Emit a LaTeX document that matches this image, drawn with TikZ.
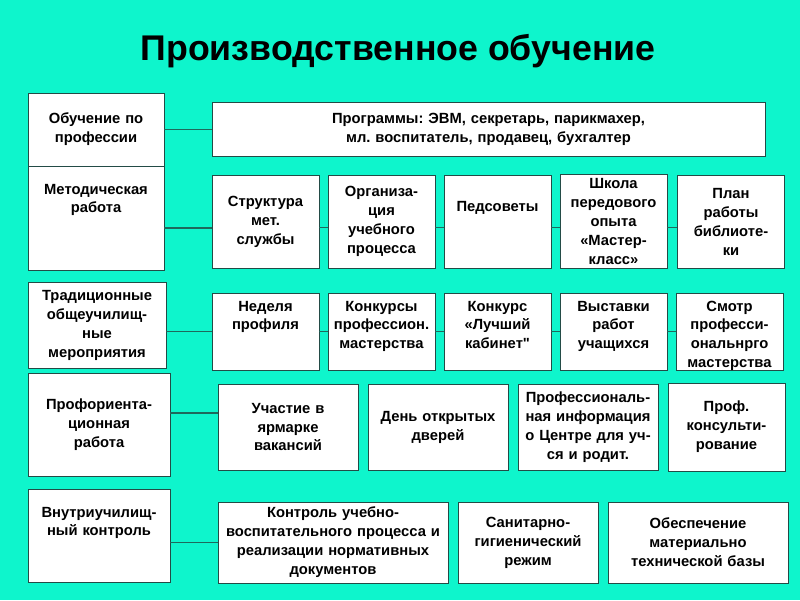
\documentclass[tikz,border=0pt]{standalone}
\usepackage{fontspec}
\setmainfont{Liberation Sans}
\usetikzlibrary{calc}
\frenchspacing
\definecolor{bgaqua}{RGB}{14,245,204}
\definecolor{boxline}{RGB}{35,75,70}
\definecolor{linkline}{RGB}{30,105,92}
\tikzstyle{normalBox} = [shape=rectangle, draw=boxline, text=black, thin,
	align=center, fill=white, inner xsep=.03cm, inner ysep=.1cm,
	font=\bfseries\fontsize{10.5}{13.5}\selectfont]
\tikzstyle{SideBox} = [normalBox, text width=3.34cm, minimum height=1.825cm]
\tikzstyle{RowBox} = [normalBox, text width=2.615cm, minimum height=2.325cm]
\tikzstyle{LowBox} = [normalBox, text width=2.615cm, text height=.35cm,
	text depth=1.375cm]
\tikzstyle{WideBox} = [normalBox, text width=3.44cm, minimum height=2.15cm]
\tikzstyle{normalLine} = [draw=linkline, line width=.8pt]

\begin{document}
\begin{tikzpicture}[node distance=2.9cm]
  \fill [bgaqua] (0,0) rectangle (20,-15);
  \useasboundingbox (0,0) rectangle (20,-15);
  \node (TITLE) at (9.95,-1.28) [font=\bfseries\fontsize{25.4}{30}\selectfont]
    {Производственное обучение};

  % left column
  \node (PROF) at (2.4,-3.2375) [SideBox] {Обучение по\\профессии};
  \node (METH) at (2.4,-5.45) [SideBox, text height=.6cm, text depth=1.8cm]
    {Методическая\\работа};
  \node (TRAD) at (2.425,-8.125) [SideBox, text width=3.39cm, minimum height=2.15cm]
    {Традиционные\\общеучилищ-\\ные\\мероприятия};
  \node (ORIE) at (2.475,-10.6125) [SideBox, text width=3.49cm, minimum height=2.575cm]
    {Профориента-\\ционная\\работа};
  \node (CTRL) at (2.475,-13.3875) [SideBox, text width=3.49cm, text height=.6cm,
    text depth=1.525cm] {Внутриучилищ-\\ный контроль};

  % rows
  \node (PROG) at (12.2125,-3.225) [normalBox, text width=13.765cm, minimum height=1.35cm]
    {Программы: ЭВМ, секретарь, парикмахер,\\мл. воспитатель, продавец, бухгалтер};

  \node (STRU) at (6.6375,-5.5375) [RowBox] {Структура\\мет.\\службы};
  \node (ORGA) [RowBox, right of=STRU] {Организа-\\ция\\учебного\\процесса};
  \node (PEDS) [RowBox, right of=ORGA, text height=.8cm, text depth=1.325cm,
    minimum height=0cm] {Педсоветы};
  \node (SCHO) [RowBox, right of=PEDS] {Школа\\передового\\опыта\\«Мастер-\\класс»};
  \node (PLAN) [RowBox, right of=SCHO, xshift=.0375cm] {План\\работы\\библиоте-\\ки};

  \node (WEEK) at (6.6375,-8.2875) [LowBox] {Неделя\\профиля};
  \node (CONK) [LowBox, right of=WEEK] {Конкурсы\\профессион.\\мастерства};
  \node (CABI) [LowBox, right of=CONK] {Конкурс\\«Лучший\\кабинет\textquotedbl};
  \node (EXHI) [LowBox, right of=CABI] {Выставки\\работ\\учащихся};
  \node (REVI) [LowBox, right of=EXHI] {Смотр\\професси-\\ональнрго\\мастерства};

  \node (FAIR) at (7.2,-10.675) [WideBox] {Участие в\\ярмарке\\вакансий};
  \node (OPEN) [WideBox, right of=FAIR, node distance=3.75cm] {День открытых\\дверей};
  \node (INFO) [WideBox, right of=OPEN, node distance=3.75cm]
    {Профессиональ-\\ная информация\\о Центре для уч-\\ся и родит.};
  \node (CONS) [WideBox, right of=INFO, node distance=3.75cm, xshift=-.2875cm,
    text width=2.865cm, minimum height=2.2cm] {Проф.\\консульти-\\рование};

  \node (CONT) at (8.325,-13.5625) [WideBox, text width=5.69cm, minimum height=2.025cm]
    {Контроль учебно-\\воспитательного процесса и\\реализации нормативных\\документов};
  \node (SANI) at (13.2,-13.5625) [WideBox, minimum height=2.025cm]
    {Санитарно-\\гигиенический\\режим};
  \node (BASE) at (17.45,-13.5625) [WideBox, text width=4.44cm, minimum height=2.025cm]
    {Обеспечение\\материально\\технической базы};

  % links
  \draw [normalLine] (PROF.east) -- (PROF.east -| PROG.west);
  \draw [normalLine] ([yshift=-.25cm]METH.east) -- ([yshift=-.25cm]METH.east -| STRU.west);
  \foreach \a/\b in {STRU/ORGA, ORGA/PEDS, PEDS/SCHO, SCHO/PLAN}
    \draw [normalLine] ([yshift=-.16cm]\a.east) -- ([yshift=-.16cm]\a.east -| \b.west);
  \draw [normalLine] (TRAD.east |- WEEK.west) -- (WEEK.west);
  \foreach \a/\b in {WEEK/CONK, CONK/CABI, CABI/EXHI, EXHI/REVI}
    \draw [normalLine] (\a) -- (\b);
  \draw [normalLine] ([yshift=.35cm]FAIR.west -| ORIE.east) -- ([yshift=.35cm]FAIR.west);
  \draw [normalLine] (CTRL.east |- CONT.west) -- (CONT.west);

\end{tikzpicture}
\end{document}
